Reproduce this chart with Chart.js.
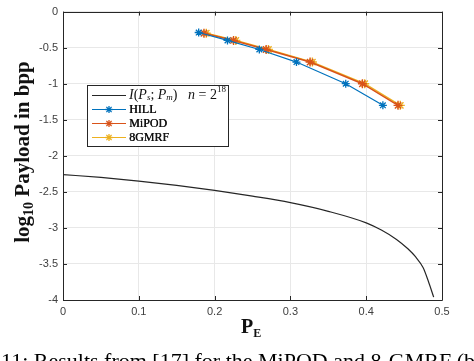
<!DOCTYPE html>
<html>
<head>
<meta charset="utf-8">
<script src="https://cdn.jsdelivr.net/npm/chart.js@4/dist/chart.umd.min.js"></script>
<style>
html,body{margin:0;padding:0;background:#fff;}
#wrap{position:relative;width:474px;height:361px;}
</style>
</head>
<body>
<div id="wrap"><canvas id="c" width="474" height="361"></canvas></div>
<script>
// ---- data ----
const xTicks = [0, 0.1, 0.2, 0.3, 0.4, 0.5];
const yTicks = [0, -0.5, -1, -1.5, -2, -2.5, -3, -3.5, -4];
const boundP = [0, 0.05, 0.1, 0.15, 0.2, 0.25, 0.3, 0.35, 0.4, 0.42, 0.44, 0.455, 0.465, 0.475, 0.482, 0.489];
const boundV = [-2.26, -2.30, -2.35, -2.41, -2.48, -2.56, -2.65, -2.77, -2.93, -3.03, -3.16, -3.29, -3.40, -3.55, -3.74, -3.96];
const hillP = [0.179, 0.217, 0.259, 0.308, 0.373, 0.422];
const hillV = [-0.29, -0.40, -0.525, -0.70, -1.00, -1.30];
const mipodP = [0.186, 0.225, 0.268, 0.326, 0.395, 0.442];
const mipodV = [-0.30, -0.40, -0.525, -0.70, -1.00, -1.30];
const gmrfP = [0.189, 0.228, 0.271, 0.329, 0.398, 0.445];
const gmrfV = [-0.30, -0.40, -0.525, -0.70, -1.00, -1.30];
const seriesNames = ['HILL', 'MiPOD', '8GMRF'];

const pts = (xs, ys) => xs.map((x, i) => ({x: x, y: ys[i]}));
const COL = {hill: '#0072BD', mipod: '#D95319', gmrf: '#EDB120', bound: '#262626'};

const boxPlugin = {
  id: 'box',
  afterDatasetsDraw(chart) {
    const {ctx, chartArea: a, scales} = chart;
    ctx.save();
    ctx.strokeStyle = '#262626';
    ctx.lineWidth = 1;
    ctx.beginPath();
    ctx.rect(Math.round(a.left) + 0.5, Math.round(a.top) + 0.5, Math.round(a.right - a.left), Math.round(a.bottom - a.top));
    ctx.stroke();
    const tl = 4;
    ctx.beginPath();
    xTicks.forEach(v => {
      const px = Math.round(scales.x.getPixelForValue(v)) + 0.5;
      ctx.moveTo(px, a.bottom); ctx.lineTo(px, a.bottom - tl);
      ctx.moveTo(px, a.top); ctx.lineTo(px, a.top + tl);
    });
    yTicks.forEach(v => {
      const py = Math.round(scales.y.getPixelForValue(v)) + 0.5;
      ctx.moveTo(a.left, py); ctx.lineTo(a.left + tl, py);
      ctx.moveTo(a.right, py); ctx.lineTo(a.right - tl, py);
    });
    ctx.stroke();
    ctx.restore();
  },
  afterDraw(chart) {
    const {ctx} = chart;
    ctx.save();
    // legend
    const lx = 87, ly = 85, lw = 141, lh = 61;
    ctx.fillStyle = '#fff';
    ctx.fillRect(lx, ly, lw, lh);
    ctx.strokeStyle = '#262626';
    ctx.lineWidth = 1;
    ctx.strokeRect(lx + 0.5, ly + 0.5, lw, lh);
    const rows = [95, 109, 123, 137];
    const cols = [COL.bound, COL.hill, COL.mipod, COL.gmrf];
    rows.forEach((ry, i) => {
      ctx.strokeStyle = cols[i];
      ctx.lineWidth = 1;
      ctx.beginPath(); ctx.moveTo(92, ry + 0.5); ctx.lineTo(126, ry + 0.5); ctx.stroke();
      if (i > 0) {
        const cx = 109, cy = ry + 0.5, r = 3.5, d = r * 0.75;
        ctx.lineWidth = 1.3;
        ctx.beginPath();
        ctx.moveTo(cx - r, cy); ctx.lineTo(cx + r, cy);
        ctx.moveTo(cx, cy - r); ctx.lineTo(cx, cy + r);
        ctx.moveTo(cx - d, cy - d); ctx.lineTo(cx + d, cy + d);
        ctx.moveTo(cx - d, cy + d); ctx.lineTo(cx + d, cy - d);
        ctx.stroke();
      }
    });
    ctx.fillStyle = '#111';
    ctx.textBaseline = 'middle';
    ctx.textAlign = 'left';
    let x = 129;
    const it = 'italic 14px "Liberation Serif"', sub = 'italic 9px "Liberation Serif"', rm = '14px "Liberation Serif"';
    const put = (t, f, dy) => { ctx.font = f; ctx.fillText(t, x, rows[0] + (dy || 0)); x += ctx.measureText(t).width; };
    put('I', it); put('(', rm); put('P', it); put('s', sub, 3); put('; ', rm); put('P', it); put('m', sub, 3); put(')', rm);
    x = 188;
    put('n', it); put(' = 2', rm); put('18', '9px "Liberation Serif"', -5);
    ctx.font = '12px "Liberation Serif"';
    seriesNames.forEach((n, i) => {
      ctx.fillText(n, 129, rows[i + 1] + 0.5);
      ctx.fillText(n, 129.4, rows[i + 1] + 0.5);
    });

    // y title
    ctx.save();
    ctx.translate(22, 152);
    ctx.rotate(-Math.PI / 2);
    ctx.fillStyle = '#111';
    const f1 = 'bold 21px "Liberation Serif"', f2 = 'bold 14px "Liberation Serif"';
    ctx.font = f1; const w1 = ctx.measureText('log').width, w3 = ctx.measureText(' Payload in bpp').width;
    ctx.font = f2; const w2 = ctx.measureText('10').width;
    let sx = -(w1 + w2 + w3) / 2;
    ctx.textBaseline = 'alphabetic';
    ctx.font = f1; ctx.fillText('log', sx, 7); sx += w1;
    ctx.font = f2; ctx.fillText('10', sx, 11); sx += w2;
    ctx.font = f1; ctx.fillText(' Payload in bpp', sx, 7);
    ctx.restore();

    // x title
    ctx.textBaseline = 'alphabetic';
    ctx.font = 'bold 20px "Liberation Serif"';
    const wp = ctx.measureText('P').width;
    ctx.fillText('P', 241, 333);
    ctx.font = 'bold 12px "Liberation Serif"';
    ctx.fillText('E', 241 + wp, 337);

    // caption (cut off at bottom)
    ctx.font = '22px "Liberation Serif"';
    ctx.fillStyle = '#000';
    ctx.fillText('11: Results from [17] for the MiPOD and 8-GMRF (b', 1, 368);
    ctx.restore();
  }
};

new Chart(document.getElementById('c'), {
  type: 'scatter',
  data: {
    datasets: [
      {label: 'bound', data: pts(boundP, boundV), showLine: true, borderColor: COL.bound, borderWidth: 1.2, pointRadius: 0, cubicInterpolationMode: 'monotone'},
      {label: seriesNames[0], data: pts(hillP, hillV), showLine: true, borderColor: COL.hill, backgroundColor: COL.hill, borderWidth: 1.2, pointStyle: 'star', pointRadius: 4, pointBorderWidth: 1.3},
      {label: seriesNames[1], data: pts(mipodP, mipodV), showLine: true, borderColor: COL.mipod, backgroundColor: COL.mipod, borderWidth: 1.5, pointStyle: 'star', pointRadius: 4.5, pointBorderWidth: 1.4},
      {label: seriesNames[2], data: pts(gmrfP, gmrfV), showLine: true, borderColor: COL.gmrf, backgroundColor: COL.gmrf, borderWidth: 1.3, pointStyle: 'star', pointRadius: 4.5, pointBorderWidth: 1.4}
    ]
  },
  options: {
    responsive: false,
    animation: false,
    events: [],
    layout: {padding: {top: 5, right: 32, left: 0, bottom: 0}},
    plugins: {legend: {display: false}, tooltip: {enabled: false}},
    scales: {
      x: {
        type: 'linear', min: 0, max: 0.5,
        afterFit(s) { s.height = 61; },
        afterBuildTicks(s) { s.ticks = xTicks.map(v => ({value: v})); },
        ticks: {padding: 5, color: '#404040', font: {family: 'Liberation Sans', size: 11}, maxRotation: 0, callback: v => String(v)},
        grid: {color: '#e8e8e8', drawTicks: false},
        border: {display: false}
      },
      y: {
        type: 'linear', min: -4, max: 0,
        afterFit(s) { s.width = 63; },
        afterBuildTicks(s) { s.ticks = yTicks.map(v => ({value: v})); },
        ticks: {padding: 5, color: '#404040', font: {family: 'Liberation Sans', size: 11}, callback: v => String(v)},
        grid: {color: '#e8e8e8', drawTicks: false},
        border: {display: false}
      }
    }
  },
  plugins: [boxPlugin]
});
</script>
</body>
</html>
